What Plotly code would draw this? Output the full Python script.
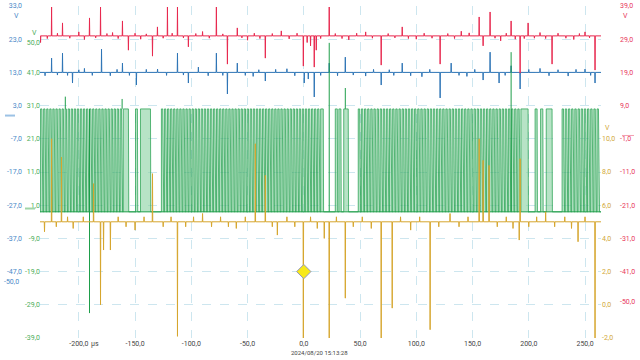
import plotly.graph_objects as go

# ---------------- data (time in µs, values in V) ----------------
X_MIN, X_MAX = -234.5, 264.2
X_TICKS = [-200, -150, -100, -50, 0, 50, 100, 150, 200, 250]
X_TICKTEXT = ["-200,0", "-150,0", "-100,0", "-50,0", "0,0", "50,0", "100,0", "150,0", "200,0", "250,0"]
TIMESTAMP = "2024/08/20 15:13:28"

# Channel A (red, right outer axis)
RED_BASE = 30.0
RED_SPIKES = [(-234.0, 28.0), (-228.0, 29.2), (-224.2, 38.7), (-219.0, 30.8), (-214.5, 33.9),
              (-208.0, 29.3), (-200.0, 31.2), (-195.0, 28.9), (-190.5, 35.4), (-185.0, 29.4),
              (-180.7, 38.7), (-175.0, 30.7), (-170.0, 31.0), (-165.0, 29.2), (-161.2, 34.5),
              (-155.9, 25.7), (-150.0, 30.8), (-145.0, 29.0), (-140.0, 30.6), (-134.5, 23.9),
              (-130.1, 32.7), (-125.0, 29.3), (-121.2, 38.7), (-117.0, 30.8), (-112.3, 38.7),
              (-107.0, 29.4), (-102.6, 26.7), (-96.0, 30.7), (-90.0, 31.3), (-84.0, 29.3),
              (-77.7, 38.7), (-72.0, 30.6), (-67.9, 21.5), (-59.1, 32.4), (-55.0, 29.4),
              (-50.0, 28.7), (-44.0, 30.8), (-39.0, 29.2), (-34.2, 23.3), (-28.0, 30.7),
              (-20.0, 31.5), (-13.0, 29.1), (-6.0, 30.8), (-0.4, 20.9), (3.0, 28.0),
              (6.0, 27.0), (9.3, 20.6), (11.1, 25.7), (15.0, 29.2), (22.6, 38.7),
              (28.0, 30.7), (34.0, 29.2), (40.0, 28.8), (47.0, 30.8), (55.0, 31.2),
              (61.0, 29.3), (68.8, 21.2), (75.0, 30.7), (81.0, 29.4), (87.5, 32.7),
              (93.0, 29.2), (100.0, 29.0), (107.0, 30.8), (114.0, 29.3), (121.2, 21.5),
              (128.0, 30.7), (134.0, 29.2), (140.0, 31.4), (147.0, 30.9), (155.9, 35.7),
              (159.4, 27.0), (165.6, 37.2), (170.0, 29.3), (175.0, 28.5), (180.0, 30.8),
              (184.3, 34.5), (188.0, 29.0), (192.3, 18.8), (196.0, 29.2), (199.4, 33.9),
              (205.0, 29.3), (210.0, 31.0), (215.0, 29.2), (220.7, 21.5), (226.0, 30.8),
              (233.0, 29.3), (240.0, 28.9), (245.0, 30.7), (250.0, 31.2), (254.0, 29.4),
              (258.9, 19.7)]

# Channel B (blue, left outer axis)
BLUE_BASE = 13.0
BLUE_SPIKES = [(-230.0, 12.0), (-224.2, 17.3), (-219.0, 12.2), (-214.5, 18.8), (-210.0, 12.1),
               (-205.6, 9.8), (-200.0, 13.8), (-195.0, 14.2), (-188.0, 12.1), (-179.8, 20.0),
               (-172.0, 12.0), (-166.0, 13.9), (-161.2, 15.8), (-155.0, 12.1), (-148.8, 9.2),
               (-140.0, 13.9), (-130.0, 14.0), (-122.0, 12.1), (-112.3, 18.8), (-107.0, 12.2),
               (-102.6, 9.8), (-93.7, 14.6), (-85.0, 12.0), (-77.7, 18.8), (-72.0, 12.1),
               (-67.9, 6.5), (-59.1, 15.8), (-52.0, 12.1), (-45.0, 11.8), (-40.0, 13.8),
               (-34.2, 10.4), (-25.0, 13.9), (-15.0, 14.1), (-8.0, 12.0), (0.4, 9.8),
               (4.0, 11.0), (9.3, 5.6), (15.0, 12.1), (22.6, 15.8), (30.0, 12.0),
               (36.9, 17.6), (44.0, 12.2), (55.0, 11.9), (62.0, 13.9), (68.8, 9.2),
               (76.0, 13.8), (80.0, 12.1), (87.5, 15.8), (95.0, 12.0), (105.0, 11.7),
               (112.0, 13.9), (121.2, 5.3), (131.0, 15.8), (138.0, 12.1), (145.0, 11.8),
               (152.0, 13.9), (159.4, 10.7), (165.6, 19.1), (173.6, 9.8), (179.0, 12.1),
               (184.3, 15.0), (192.3, 8.0), (200.0, 13.9), (210.0, 14.2), (218.0, 12.0),
               (226.0, 13.8), (235.0, 11.9), (242.0, 13.9), (250.0, 14.0), (255.0, 12.1),
               (258.9, 9.8)]

# Channel C (green, left inner axis): square-wave bursts (start, end, pulse count)
GREEN_HIGH, GREEN_LOW = 30.0, -1.0
GREEN_BURSTS = [(-234.0, -160.5, 27), (-126.6, 15.0, 52), (48.4, 193.0, 52), (229.6, 263.5, 12)]
GREEN_EXTRA_HIGH = [(-160.5, -155.9), (-149.6, -147.9), (-145.2, -136.3), (15.0, 17.3),
                    (28.0, 29.8), (31.2, 33.0), (35.5, 39.5), (193.0, 199.4),
                    (205.6, 207.4), (210.5, 212.5), (215.5, 220.7)]
GREEN_SPIKES = [(-190.5, 30.0, -31.5), (-212.0, 30.0, 33.7), (-161.5, 30.0, 33.0),
                (22.6, -1.0, 49.9), (36.9, 30.0, 36.3), (184.3, -1.0, 47.1)]

# Channel D (yellow, right inner axis)
YEL_BASE = 5.0
YEL_SPIKES = [(-230.5, 4.4), (-224.2, 10.0), (-220.0, 4.7), (-215.4, 8.9), (-210.0, 5.3),
              (-205.0, 4.6), (-196.0, 5.3), (-186.9, 7.3), (-180.7, 0.0), (-178.0, 3.3),
              (-171.9, 3.3), (-165.0, 5.3), (-158.0, 4.7), (-150.0, 4.5), (-142.0, 5.3),
              (-134.5, 7.9), (-125.0, 4.7), (-118.0, 5.3), (-112.3, -1.9), (-105.0, 4.7),
              (-98.0, 5.3), (-90.0, 5.5), (-82.0, 4.7), (-74.0, 5.3), (-67.0, 4.7),
              (-60.0, 4.6), (-52.0, 5.3), (-43.1, 9.7), (-34.2, 7.8), (-28.0, 4.7),
              (-23.5, 4.2), (-15.0, 5.3), (-8.0, 4.7), (-0.4, -2.0), (6.0, 5.3),
              (12.0, 4.6), (18.2, 4.0), (22.6, -2.0), (29.0, 5.3), (36.9, 0.4),
              (44.0, 4.7), (52.0, 5.3), (60.0, 4.6), (68.8, -2.0), (78.6, -0.2),
              (86.0, 5.3), (95.0, 4.5), (103.0, 5.3), (112.3, -1.5), (120.0, 4.7),
              (130.0, 5.5), (138.0, 4.7), (146.0, 5.3), (155.9, 10.0), (159.4, 8.7),
              (164.7, 8.4), (172.0, 4.7), (180.0, 5.3), (186.0, 4.6), (191.5, 3.9),
              (192.3, 8.8), (200.0, 4.7), (207.0, 5.3), (215.0, 5.6), (223.0, 4.7),
              (232.0, 5.3), (238.0, 4.6), (243.8, 3.8), (250.0, 5.3), (258.9, -2.0)]
MARKER_T, MARKER_V = 0.0, 2.0

BLUE_TICKS = [33, 23, 13, 3, -7, -17, -27, -37, -47, -57, -67]
BLUE_TEXT = ["33,0", "23,0", "13,0", "3,0", "-7,0", "-17,0", "-27,0", "-37,0", "-47,0", "", ""]
GREEN_TICKS = [50, 41, 31, 21, 11, 1, -9, -19, -29, -39]
GREEN_TEXT = ["50,0", "41,0", "31,0", "21,0", "11,0", "1,0", "-9,0", "-19,0", "-29,0", "-39,0"]
RED_TICKS = [39, 29, 19, 9, -1, -11, -21, -31, -41, -50]
RED_TEXT = ["39,0", "29,0", "19,0", "9,0", "-1,0", "-11,0", "-21,0", "-31,0", "-41,0", "-50,0"]
YEL_TICKS = [10, 8, 6, 4, 2, 0, -2]
YEL_TEXT = ["10,0", "8,0", "6,0", "4,0", "2,0", "0,0", "-2,0"]

# ---------------- styles ----------------
C_RED, C_BLUE, C_GREEN, C_YEL = "#e8294f", "#2e75b6", "#1e9e4a", "#d6a62e"
T_RED, T_BLUE, T_GREEN, T_YEL = "#e8375a", "#4a89c8", "#4cae5b", "#d2a93a"
GRID = "#cde6ef"
FONT = "Roboto"
FS = 7


def spike_series(base, spikes, w=0.22):
    xs, ys = [X_MIN], [base]
    for t, v in sorted(spikes):
        xs += [t - w, t, t + w]
        ys += [base, v, base]
    xs.append(X_MAX)
    ys.append(base)
    return xs, ys


def green_series():
    intervals = []
    for a, b, n in GREEN_BURSTS:
        p = (b - a) / n
        for i in range(n):
            s = a + i * p
            intervals.append((s, s + 0.45 * p, s + 0.78 * p))
    intervals += [(a, b, b + 0.3) for a, b in GREEN_EXTRA_HIGH]
    intervals.sort()
    xs, ys = [X_MIN], [GREEN_LOW]
    for a, b, c in intervals:
        xs += [a, a, b, c]
        ys += [GREEN_LOW, GREEN_HIGH, GREEN_HIGH, GREEN_LOW]
    xs.append(X_MAX)
    ys.append(GREEN_LOW)
    return xs, ys


fig = go.Figure()

# green low reference (fill target)
fig.add_trace(go.Scatter(x=[X_MIN, X_MAX], y=[GREEN_LOW, GREEN_LOW], mode="lines",
                         line=dict(color=C_GREEN, width=1), yaxis="y2", hoverinfo="skip"))
gx, gy = green_series()
fig.add_trace(go.Scatter(x=gx, y=gy, mode="lines", line=dict(color="rgba(30,158,74,0.9)", width=0.8),
                         fill="tonexty", fillcolor="rgba(135,208,160,0.6)", yaxis="y2"))
sx, sy = [], []
for t, a, b in GREEN_SPIKES:
    sx += [t, t, None]
    sy += [a, b, None]
fig.add_trace(go.Scatter(x=sx, y=sy, mode="lines", line=dict(color=C_GREEN, width=1), yaxis="y2"))

yx, yy = spike_series(YEL_BASE, YEL_SPIKES)
fig.add_trace(go.Scatter(x=yx, y=yy, mode="lines", line=dict(color=C_YEL, width=1), yaxis="y4"))
bx, by = spike_series(BLUE_BASE, BLUE_SPIKES)
fig.add_trace(go.Scatter(x=bx, y=by, mode="lines", line=dict(color=C_BLUE, width=1), yaxis="y"))
rx, ry = spike_series(RED_BASE, RED_SPIKES)
fig.add_trace(go.Scatter(x=rx, y=ry, mode="lines", line=dict(color=C_RED, width=1), yaxis="y3"))

fig.add_trace(go.Scatter(x=[MARKER_T], y=[MARKER_V], mode="markers", yaxis="y4",
                         marker=dict(symbol="diamond", size=11, color="#f7e91a",
                                     line=dict(color="#9296c0", width=1))))

XD = [40 / 640, 601 / 640]
YD = [22 / 360, 354 / 360]

fig.update_layout(
    width=640, height=360, margin=dict(l=0, r=0, t=0, b=0),
    plot_bgcolor="white", paper_bgcolor="white", showlegend=False,
    font=dict(family=FONT, size=FS),
    xaxis=dict(domain=XD, range=[X_MIN, X_MAX], tickvals=X_TICKS, ticktext=X_TICKTEXT,
               showgrid=True, gridcolor=GRID, griddash="dash", gridwidth=1, zeroline=False,
               showline=False, ticks="", tickfont=dict(color="#444", size=FS), automargin=False),
    yaxis=dict(domain=YD, range=[-67, 33], tickvals=BLUE_TICKS, ticktext=BLUE_TEXT,
               showgrid=True, gridcolor=GRID, griddash="dash", zeroline=False, showline=False,
               ticks="", anchor="free", position=22 / 640, side="left",
               tickfont=dict(color=T_BLUE, size=FS), automargin=False),
    yaxis2=dict(domain=YD, range=[-39, 61], tickvals=GREEN_TICKS, ticktext=GREEN_TEXT,
                overlaying="y", anchor="free", position=40 / 640, side="left",
                showgrid=False, zeroline=False, showline=False, ticks="",
                tickfont=dict(color=T_GREEN, size=FS), automargin=False),
    yaxis3=dict(domain=YD, range=[-61, 39], tickvals=RED_TICKS, ticktext=RED_TEXT,
                overlaying="y", anchor="free", position=619 / 640, side="right",
                showgrid=False, zeroline=False, showline=False, ticks="",
                tickfont=dict(color=T_RED, size=FS), automargin=False),
    yaxis4=dict(domain=YD, range=[-2, 18], tickvals=YEL_TICKS, ticktext=YEL_TEXT,
                overlaying="y", anchor="free", position=601 / 640, side="right",
                showgrid=False, zeroline=False, showline=False, ticks="",
                tickfont=dict(color=T_YEL, size=FS), automargin=False),
)

ann = [
    dict(text="-50,0", x=21 / 640, xanchor="right", xref="paper", y=-50, yref="y",
         font=dict(color=T_BLUE)),
    dict(text="V", x=21 / 640, xanchor="right", xref="paper", y=(360 - 16) / 360, yref="paper",
         font=dict(color=T_BLUE)),
    dict(text="V", x=39 / 640, xanchor="right", xref="paper", y=(360 - 33) / 360, yref="paper",
         font=dict(color=T_GREEN)),
    dict(text="V", x=621 / 640, xanchor="left", xref="paper", y=(360 - 16) / 360, yref="paper",
         font=dict(color=T_RED)),
    dict(text="V", x=603 / 640, xanchor="left", xref="paper", y=(360 - 128) / 360, yref="paper",
         font=dict(color=T_YEL)),
    dict(text="µs", x=89 / 640, xanchor="left", xref="paper", y=(360 - 344) / 360, yref="paper",
         font=dict(color="#444")),
    dict(text=TIMESTAMP, x=319 / 640, xanchor="center", xref="paper", y=(360 - 352) / 360,
         yref="paper", font=dict(color="#444", size=6)),
]
for a in ann:
    a.update(showarrow=False, yanchor="middle")
    a["font"].setdefault("size", FS)
    a["font"]["family"] = FONT
fig.update_layout(annotations=ann)

# channel zero-level markers
fig.add_shape(type="line", xref="paper", x0=5 / 640, x1=15 / 640, yref="y", y0=0, y1=0,
              line=dict(color="#9cc2e5", width=2))
fig.add_shape(type="line", xref="paper", x0=25 / 640, x1=35 / 640, yref="y2", y0=0, y1=0,
              line=dict(color="#9fd5a8", width=2))
fig.add_shape(type="line", xref="paper", x0=622 / 640, x1=634 / 640, yref="y3", y0=0, y1=0,
              line=dict(color="#f3a0b0", width=1))

fig.write_html("out.html")
